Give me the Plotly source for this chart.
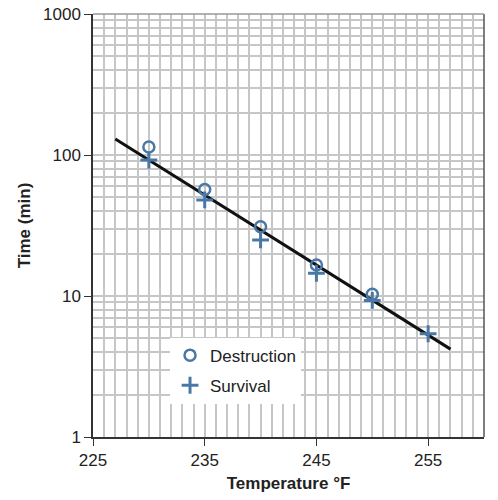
import plotly.graph_objects as go

# readings
temps = [230, 235, 240, 245, 250, 255]
destruction = [114, 57, 31, 16.6, 10.3, None]
survival = [92, 48, 25, 14.5, 9.3, 5.4]

fit_x = [227, 257]
fit_y = [130, 4.2]

x_ticks = [225, 235, 245, 255]
y_ticks = [1, 10, 100, 1000]
y_minor = [m * d for d in (1, 10, 100) for m in range(2, 10)]

blue = "#4a78a6"
grid = "#c6c6c6"

fig = go.Figure()
fig.add_trace(go.Scatter(
    x=fit_x, y=fit_y, mode="lines",
    line=dict(color="#111111", width=3),
    showlegend=False, hoverinfo="skip"
))
fig.add_trace(go.Scatter(
    x=temps, y=destruction, mode="markers", name="Destruction",
    legendgroup="a",
    marker=dict(symbol="circle-open", size=11, color=blue, line=dict(width=2.5, color=blue))
))
fig.add_trace(go.Scatter(
    x=temps, y=survival, mode="markers", name="Survival",
    legendgroup="b",
    marker=dict(symbol="cross-thin", size=12, color=blue, line=dict(width=3, color=blue))
))

fig.update_layout(
    width=498, height=500,
    margin=dict(l=93, r=14, t=14, b=63, autoexpand=False),
    paper_bgcolor="white", plot_bgcolor="white",
    font=dict(family="Liberation Sans, Arial, sans-serif", size=17, color="#222222"),
    legend=dict(
        x=0.197, y=0.235, xanchor="left", yanchor="top",
        bgcolor="white", borderwidth=0,
        font=dict(size=17, color="#222222"),
        tracegroupgap=5
    ),
    xaxis=dict(
        range=[225, 260], automargin=False,
        tickvals=x_ticks, tickfont=dict(size=17), ticklabeloverflow="allow",
        ticks="outside", ticklen=7, tickcolor="#333333",
        showline=True, linecolor="#333333", linewidth=1.5, mirror=False,
        showgrid=True, gridcolor=grid, gridwidth=1.5,
        minor=dict(dtick=1, showgrid=True, gridcolor=grid, gridwidth=1.5),
        zeroline=False,
        title=dict(text="<b>Temperature °F</b>", font=dict(size=17), standoff=8)
    ),
    yaxis=dict(
        type="log", range=[0, 3], automargin=False,
        tickvals=y_ticks, ticktext=[str(v) for v in y_ticks], tickfont=dict(size=17),
        ticklabeloverflow="allow",
        ticks="outside", ticklen=7, tickcolor="#333333",
        showline=True, linecolor="#333333", linewidth=1.5,
        showgrid=True, gridcolor=grid, gridwidth=1.5,
        minor=dict(tickvals=y_minor, showgrid=True, gridcolor=grid, gridwidth=1.5),
        zeroline=False,
        title=dict(text="<b>Time (min)</b>", font=dict(size=17), standoff=8)
    ),
)

# right and top frame edges
fig.add_shape(type="line", xref="paper", yref="paper", x0=1, x1=1, y0=0, y1=1,
              line=dict(color="#555555", width=1.5))
fig.add_shape(type="line", xref="paper", yref="paper", x0=0, x1=1, y0=1, y1=1,
              line=dict(color="#999999", width=1.5))

# drop the browser's default body margin so the figure fills the window
fig.write_html("out.html", config={"displayModeBar": False},
               post_script="document.body.style.margin='0px';")
